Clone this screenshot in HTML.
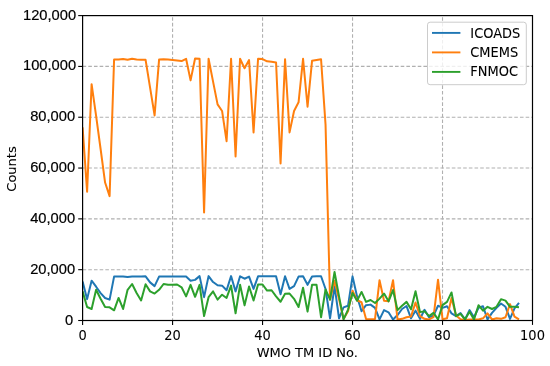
<!DOCTYPE html>
<html><head><meta charset="utf-8"><title>Counts by WMO TM ID No.</title>
<style>
html,body{margin:0;padding:0;background:#fff;}
body{width:550px;height:366px;overflow:hidden;}
svg{display:block;}
.dj{font-family:"DejaVu Sans","Liberation Sans",sans-serif;font-size:13px;fill:#000;stroke:#000;stroke-width:0.08px;}
.ar{font-family:"Liberation Sans","DejaVu Sans",sans-serif;font-size:14.7px;fill:#000;stroke:#000;stroke-width:0.2px;}
</style></head><body>
<svg width="550" height="366" viewBox="0 0 550 366">
<rect x="0" y="0" width="550" height="366" fill="#ffffff"/>

<g stroke="#b0b0b0" stroke-width="1.1" stroke-dasharray="3.6,2.08" fill="none">
<line x1="172.58" y1="320.50" x2="172.58" y2="15.60" stroke-dashoffset="1.3"/>
<line x1="262.56" y1="320.50" x2="262.56" y2="15.60" stroke-dashoffset="1.3"/>
<line x1="352.54" y1="320.50" x2="352.54" y2="15.60" stroke-dashoffset="1.3"/>
<line x1="442.52" y1="320.50" x2="442.52" y2="15.60" stroke-dashoffset="1.3"/>
<line x1="82.60" y1="269.68" x2="532.50" y2="269.68"/>
<line x1="82.60" y1="218.87" x2="532.50" y2="218.87"/>
<line x1="82.60" y1="168.05" x2="532.50" y2="168.05"/>
<line x1="82.60" y1="117.23" x2="532.50" y2="117.23"/>
<line x1="82.60" y1="66.42" x2="532.50" y2="66.42"/>
</g>
<clipPath id="c"><rect x="82.60" y="15.60" width="449.90" height="304.90"/></clipPath>
<g clip-path="url(#c)" fill="none" stroke-width="2.0" stroke-linejoin="round" stroke-linecap="butt">
<polyline stroke="#1f77b4" points="82.60,281.52 87.10,299.13 91.60,280.71 96.10,286.71 100.60,293.06 105.09,297.96 109.59,299.61 114.09,276.59 118.59,276.42 123.09,276.42 127.59,277.05 132.09,276.42 136.59,276.42 141.09,276.42 145.59,276.29 150.08,282.36 154.58,286.12 159.08,276.59 163.58,276.42 168.08,276.42 172.58,276.42 177.08,276.42 181.58,276.42 186.08,276.59 190.58,280.71 195.07,279.87 199.57,276.11 204.07,297.15 208.57,276.11 213.07,282.03 217.57,285.31 222.07,285.64 226.57,290.26 231.07,276.11 235.57,291.41 240.06,276.29 244.56,278.73 249.06,276.59 253.56,288.92 258.06,276.29 262.56,276.29 267.06,276.29 271.56,276.29 276.06,276.29 280.56,294.20 285.06,276.29 289.55,288.92 294.05,286.12 298.55,276.59 303.05,276.29 307.55,284.83 312.05,276.59 316.55,276.29 321.05,276.29 325.55,288.99 330.04,318.31 334.54,286.20 339.04,318.31 343.54,307.36 348.04,305.71 352.54,276.37 357.04,296.41 361.54,311.20 366.04,305.18 370.54,304.62 375.03,307.90 379.53,319.41 384.03,310.11 388.53,312.29 393.03,319.41 397.53,315.04 402.03,309.02 406.53,306.04 411.03,318.31 415.53,310.64 420.02,318.85 424.52,309.78 429.02,317.22 433.52,315.57 438.02,305.71 442.52,307.90 447.02,306.27 451.52,313.39 456.02,316.13 460.52,313.06 465.01,319.41 469.51,310.11 474.01,317.22 478.51,307.80 483.01,306.27 487.51,319.41 492.01,312.83 496.51,307.90 501.01,303.53 505.51,306.80 510.00,318.85 514.50,308.46 519.00,302.97"/>
<polyline stroke="#ff7f0e" points="82.60,127.40 87.10,191.68 91.60,84.20 96.10,115.96 100.60,148.99 105.09,182.53 109.59,196.13 114.09,59.58 118.59,59.56 123.09,59.05 127.59,59.81 132.09,58.79 136.59,59.56 141.09,59.81 145.59,59.81 150.08,87.63 154.58,115.45 159.08,59.56 163.58,59.30 168.08,59.56 172.58,60.06 177.08,60.57 181.58,61.11 186.08,58.79 190.58,80.39 195.07,58.54 199.57,58.79 204.07,212.54 208.57,58.79 213.07,81.66 217.57,104.40 222.07,110.96 226.57,141.19 231.07,58.79 235.57,156.51 240.06,58.79 244.56,68.32 249.06,60.06 253.56,132.40 258.06,58.79 262.56,59.05 267.06,61.34 271.56,61.84 276.06,62.43 280.56,163.53 285.06,59.15 289.55,132.40 294.05,111.06 298.55,102.29 303.05,58.79 307.55,106.69 312.05,60.83 316.55,60.06 321.05,59.30 325.55,124.86 330.04,299.67 334.54,280.76 339.04,299.16 343.54,318.98 348.04,311.35 352.54,290.77 357.04,300.25 361.54,302.21 366.04,318.98 370.54,319.23 375.03,318.98 379.53,280.20 384.03,300.78 388.53,301.34 393.03,280.20 397.53,319.41 402.03,318.85 406.53,317.22 411.03,316.43 415.53,302.46 420.02,316.13 424.52,318.85 429.02,319.41 433.52,317.22 438.02,279.64 442.52,319.18 447.02,318.31 451.52,298.04 456.02,315.57 460.52,319.18 465.01,319.99 469.51,319.48 474.01,319.48 478.51,319.48 483.01,318.31 487.51,313.39 492.01,319.41 496.51,318.31 501.01,318.85 505.51,317.22 510.00,304.09 514.50,316.66 519.00,319.41"/>
<polyline stroke="#2ca02c" points="82.60,291.39 87.10,307.03 91.60,308.99 96.10,289.76 100.60,298.80 105.09,307.03 109.59,307.34 114.09,310.31 118.59,297.96 123.09,308.99 127.59,289.76 132.09,283.99 136.59,293.06 141.09,300.43 145.59,284.32 150.08,291.41 154.58,293.54 159.08,289.76 163.58,283.99 168.08,284.67 172.58,284.83 177.08,284.50 181.58,287.29 186.08,296.34 190.58,284.83 195.07,296.82 199.57,284.83 204.07,316.05 208.57,297.15 213.07,291.41 217.57,299.61 222.07,294.69 226.57,297.96 231.07,285.64 235.57,313.26 240.06,284.83 244.56,305.38 249.06,286.45 253.56,300.43 258.06,284.50 262.56,284.50 267.06,290.57 271.56,290.26 276.06,296.34 280.56,301.75 285.06,293.87 289.55,293.54 294.05,298.80 298.55,307.03 303.05,287.77 307.55,311.63 312.05,284.83 316.55,284.83 321.05,317.22 325.55,289.50 330.04,299.69 334.54,272.00 339.04,296.36 343.54,319.41 348.04,309.55 352.54,292.93 357.04,300.78 361.54,291.92 366.04,301.88 370.54,299.97 375.03,302.97 379.53,298.60 384.03,293.62 388.53,301.34 393.03,290.01 397.53,310.11 402.03,305.71 406.53,301.88 411.03,309.32 415.53,291.33 420.02,312.12 424.52,311.20 429.02,316.13 433.52,312.83 438.02,319.41 442.52,305.18 447.02,301.88 451.52,292.42 456.02,316.13 460.52,313.92 465.01,319.41 469.51,311.73 474.01,319.41 478.51,305.18 483.01,310.64 487.51,306.80 492.01,308.99 496.51,306.80 501.01,299.16 505.51,300.58 510.00,306.80 514.50,306.80 519.00,307.36"/>
</g>
<rect x="82.60" y="15.60" width="449.90" height="304.90" fill="none" stroke="#000" stroke-width="1.2"/>
<g stroke="#000" stroke-width="1.1">
<line x1="82.60" y1="320.50" x2="82.60" y2="324.90"/>
<line x1="172.58" y1="320.50" x2="172.58" y2="324.90"/>
<line x1="262.56" y1="320.50" x2="262.56" y2="324.90"/>
<line x1="352.54" y1="320.50" x2="352.54" y2="324.90"/>
<line x1="442.52" y1="320.50" x2="442.52" y2="324.90"/>
<line x1="532.50" y1="320.50" x2="532.50" y2="324.90"/>
<line x1="78.20" y1="320.50" x2="82.60" y2="320.50"/>
<line x1="78.20" y1="269.68" x2="82.60" y2="269.68"/>
<line x1="78.20" y1="218.87" x2="82.60" y2="218.87"/>
<line x1="78.20" y1="168.05" x2="82.60" y2="168.05"/>
<line x1="78.20" y1="117.23" x2="82.60" y2="117.23"/>
<line x1="78.20" y1="66.42" x2="82.60" y2="66.42"/>
<line x1="78.20" y1="15.60" x2="82.60" y2="15.60"/>
</g>
<text class="dj" style="font-size:13.8px" transform="translate(82.60,339.9) scale(0.942,1)" text-anchor="middle">0</text>
<text class="dj" style="font-size:13.8px" transform="translate(172.58,339.9) scale(0.942,1)" text-anchor="middle">20</text>
<text class="dj" style="font-size:13.8px" transform="translate(262.56,339.9) scale(0.942,1)" text-anchor="middle">40</text>
<text class="dj" style="font-size:13.8px" transform="translate(352.54,339.9) scale(0.942,1)" text-anchor="middle">60</text>
<text class="dj" style="font-size:13.8px" transform="translate(442.52,339.9) scale(0.942,1)" text-anchor="middle">80</text>
<text class="dj" style="font-size:13.8px" transform="translate(532.50,339.9) scale(0.942,1)" text-anchor="middle">100</text>
<text class="ar" x="73.2" y="324.50" text-anchor="end">0</text>
<text class="ar" x="75.1" y="273.68" text-anchor="end">20,000</text>
<text class="ar" x="75.1" y="222.87" text-anchor="end">40,000</text>
<text class="ar" x="75.1" y="172.05" text-anchor="end">60,000</text>
<text class="ar" x="75.1" y="121.23" text-anchor="end">80,000</text>
<text class="ar" x="76.1" y="70.42" text-anchor="end">100,000</text>
<text class="ar" x="76.1" y="19.60" text-anchor="end">120,000</text>
<text class="dj" x="307.3" y="356.9" text-anchor="middle">WMO TM ID No.</text>
<text class="dj" transform="translate(16.3,169.0) rotate(-90)" text-anchor="middle">Counts</text>
<rect x="427.5" y="22.2" width="98.8" height="62.5" rx="2.6" ry="2.6" fill="#ffffff" fill-opacity="0.8" stroke="#cccccc" stroke-width="1"/>
<line x1="432" y1="32.90" x2="460.4" y2="32.90" stroke="#1f77b4" stroke-width="1.9"/>
<text class="dj" style="font-size:13.75px" transform="translate(470.3,37.60) scale(0.945,1)">ICOADS</text>
<line x1="432" y1="52.40" x2="460.4" y2="52.40" stroke="#ff7f0e" stroke-width="1.9"/>
<text class="dj" style="font-size:13.75px" transform="translate(470.3,57.00) scale(0.945,1)">CMEMS</text>
<line x1="432" y1="71.90" x2="460.4" y2="71.90" stroke="#2ca02c" stroke-width="1.9"/>
<text class="dj" style="font-size:13.75px" transform="translate(470.3,76.40) scale(0.945,1)">FNMOC</text>
</svg></body></html>
